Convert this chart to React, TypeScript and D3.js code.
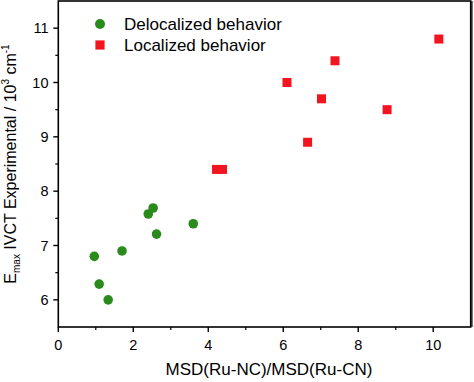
import React from "react";
import * as d3 from "d3";

const delocX = [0.96, 1.09, 1.33, 1.70, 2.40, 2.53, 2.62, 3.60];
const delocY = [6.80, 6.29, 6.00, 6.90, 7.58, 7.69, 7.21, 7.40];
const locX = [4.22, 4.38, 6.10, 6.65, 7.02, 7.38, 8.77, 10.15];
const locY = [8.40, 8.40, 10.0, 8.90, 9.70, 10.40, 9.50, 10.80];
const xTicks = [0, 2, 4, 6, 8, 10];
const yTicks = [6, 7, 8, 9, 10, 11];
const legendLabels = ["Delocalized behavior", "Localized behavior"];

const W = 474, H = 382;
const L = 58.3, R = 470.7, T = 1, B = 327;
const GREEN = "#2a8a1c";
const RED = "#f2151f";
const FONT = "'Liberation Sans', Arial, sans-serif";

export default function App() {
  const x = d3.scaleLinear().domain([0, 11]).range([L, R]);
  const y = d3.scaleLinear().domain([5.5, 11.5]).range([B, T]);
  const xMinor = d3.range(1, 11, 2);
  const yMinor = d3.range(6.5, 11.5, 1);
  const sq = 9;
  return (
    <svg width={W} height={H} style={{ position: "absolute", left: 0, top: 0, background: "#fff" }} fontFamily={FONT}>
      <rect x={0} y={0} width={W} height={H} fill="#fff" />
      {/* frame */}
      <line x1={R + 0.8} x2={R + 0.8} y1={T} y2={B} stroke="#555" strokeWidth={2.6} />
      <rect x={L} y={T} width={R - L} height={B - T} fill="none" stroke="#000" strokeWidth={1.6} />
      {/* x ticks */}
      {xTicks.map((t) => (
        <g key={"xt" + t}>
          <line x1={x(t)} x2={x(t)} y1={B} y2={B + 5} stroke="#000" strokeWidth={1.4} />
          <text x={x(t)} y={349.5} textAnchor="middle" fontSize={14.5} fill="#000">{t}</text>
        </g>
      ))}
      {xMinor.map((t) => (
        <line key={"xm" + t} x1={x(t)} x2={x(t)} y1={B} y2={B + 3} stroke="#000" strokeWidth={1.2} />
      ))}
      {/* y ticks */}
      {yTicks.map((t) => (
        <g key={"yt" + t}>
          <line x1={L - 5} x2={L} y1={y(t)} y2={y(t)} stroke="#000" strokeWidth={1.4} />
          <text x={48.5} y={y(t) + 5.2} textAnchor="end" fontSize={14.5} fill="#000">{t}</text>
        </g>
      ))}
      {yMinor.map((t) => (
        <line key={"ym" + t} x1={L - 3} x2={L} y1={y(t)} y2={y(t)} stroke="#000" strokeWidth={1.2} />
      ))}
      {/* data */}
      {delocX.map((d, i) => (
        <circle key={"d" + i} cx={x(d)} cy={y(delocY[i])} r={4.8} fill={GREEN} />
      ))}
      {locX.map((d, i) => (
        <rect key={"l" + i} x={x(d) - sq / 2} y={y(locY[i]) - sq / 2} width={sq} height={sq} fill={RED} />
      ))}
      {/* legend */}
      <circle cx={100} cy={24} r={5} fill={GREEN} />
      <text x={124} y={30} fontSize={17} fill="#000">{legendLabels[0]}</text>
      <rect x={100 - 4.6} y={45 - 4.6} width={9.2} height={9.2} fill={RED} />
      <text x={124} y={51} fontSize={17} fill="#000">{legendLabels[1]}</text>
      {/* axis titles */}
      <text x={269} y={375} textAnchor="middle" fontSize={17} fill="#000">MSD(Ru-NC)/MSD(Ru-CN)</text>
      <text transform={`translate(16,164) rotate(-90)`} textAnchor="middle" fontSize={16} fill="#000">
        E<tspan fontSize={10} dy={4}>max</tspan>
        <tspan dy={-4}> IVCT Experimental / 10</tspan>
        <tspan fontSize={10} dy={-7}>3</tspan>
        <tspan dy={7}> cm</tspan>
        <tspan fontSize={10} dy={-7}>-1</tspan>
      </text>
    </svg>
  );
}
